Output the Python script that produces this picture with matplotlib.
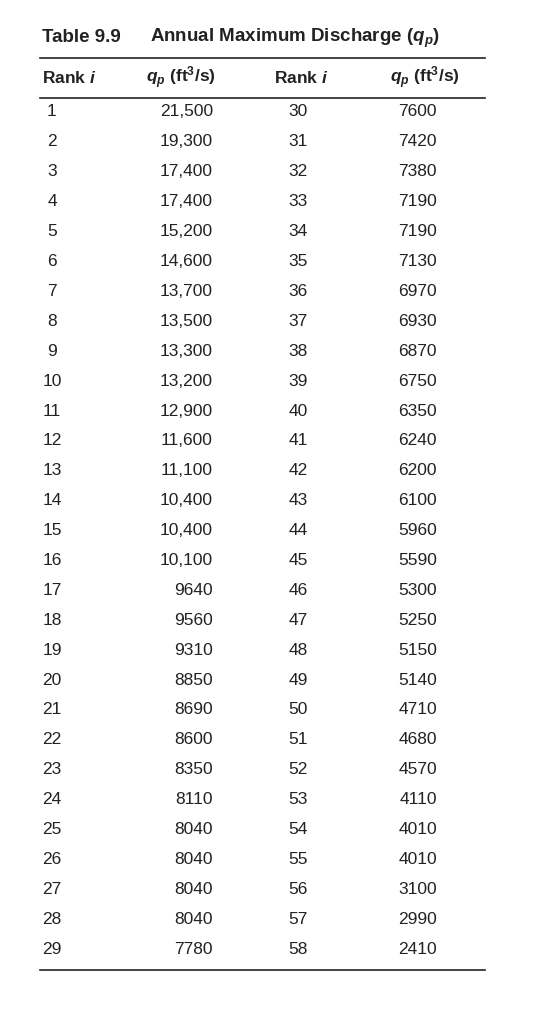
import matplotlib
matplotlib.use('Agg')
import matplotlib.pyplot as plt

plt.rcParams['font.family'] = ['Liberation Sans', 'DejaVu Sans']
plt.rcParams['mathtext.fontset'] = 'custom'
plt.rcParams['mathtext.rm'] = 'Liberation Sans'
plt.rcParams['mathtext.it'] = 'Liberation Sans:italic'
plt.rcParams['mathtext.bf'] = 'Liberation Sans:bold'
plt.rcParams['mathtext.bfit'] = 'Liberation Sans:bold:italic'

# Tabellenwerte
rank_left = list(range(1, 30))
qp_left = ['21,500', '19,300', '17,400', '17,400', '15,200', '14,600', '13,700',
           '13,500', '13,300', '13,200', '12,900', '11,600', '11,100', '10,400',
           '10,400', '10,100', '9640', '9560', '9310', '8850', '8690', '8600',
           '8350', '8110', '8040', '8040', '8040', '8040', '7780']
rank_right = list(range(30, 59))
qp_right = ['7600', '7420', '7380', '7190', '7190', '7130', '6970', '6930', '6870',
            '6750', '6350', '6240', '6200', '6100', '5960', '5590', '5300', '5250',
            '5150', '5140', '4710', '4680', '4570', '4110', '4010', '4010', '3100',
            '2990', '2410']

fig = plt.figure(figsize=(5.38, 10.24), dpi=100)
ax = fig.add_axes([0, 0, 1, 1])
ax.set_xlim(0, 538)
ax.set_ylim(1024, 0)
ax.axis('off')

fs = 12.5
col = '#222'
ax.text(42, 38, 'Table 9.9', fontsize=13.5, fontweight='bold', va='center', color=col)
ax.text(150, 38, r'Annual Maximum Discharge ($\mathbfit{q}_\mathbfit{p}$)', fontsize=13.5,
        fontweight='bold', va='center', color=col)

for x in (42, 274):
    ax.text(x, 78, r'Rank $\mathbfit{i}$', fontsize=fs, fontweight='bold', va='center', color=col)
for x in (146, 390):
    ax.text(x, 78, r'$\mathbfit{q}_\mathbfit{p}$ (ft$^\mathbf{3}$/s)', fontsize=fs,
            fontweight='bold', va='center', color=col)

ax.plot([40, 485], [58, 58], color=col, lw=1.2)
ax.plot([40, 485], [98, 98], color=col, lw=1.2)
ax.plot([40, 485], [970, 970], color=col, lw=1.2)

for k in range(len(rank_left)):
    y = 112 + k * 29.9
    ax.text(52, y, str(rank_left[k]), fontsize=fs, ha='center', va='center', color=col)
    ax.text(213, y, qp_left[k], fontsize=fs, ha='right', va='center', color=col)
    ax.text(298, y, str(rank_right[k]), fontsize=fs, ha='center', va='center', color=col)
    ax.text(437, y, qp_right[k], fontsize=fs, ha='right', va='center', color=col)

fig.savefig('out.png', dpi=100)
